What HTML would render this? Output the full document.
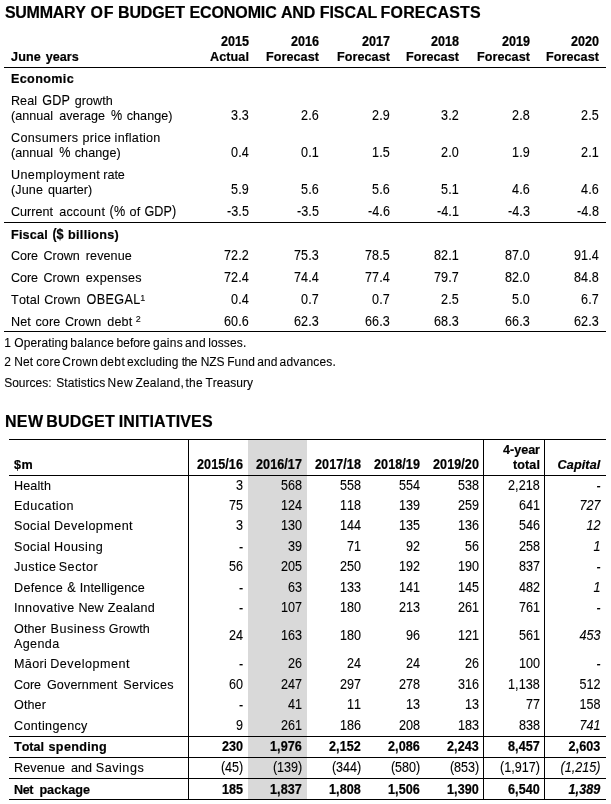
<!DOCTYPE html>
<html lang="en"><head><meta charset="utf-8"><title>Summary of Budget Economic and Fiscal Forecasts</title>
<style>
html,body{margin:0;padding:0;background:#fff;}
body{width:611px;height:804px;position:relative;overflow:hidden;font-family:"Liberation Sans",Arial,sans-serif;color:#000;font-kerning:none;-webkit-text-stroke:0.1px #000;}
.t{position:absolute;left:0;width:611px;white-space:nowrap;}
.t span{position:absolute;top:0;white-space:pre;}
.b{font-weight:bold;-webkit-text-stroke:0.2px #000;}
.i{font-style:italic;}
.h{position:absolute;background:#000;height:1px;}
.v{position:absolute;background:#000;width:1px;}
.g{position:absolute;background:#d9d9d9;}
.t sup{position:absolute;top:-3px;font-size:9px;line-height:16px;vertical-align:baseline;}
.n{font-size:12.6px;line-height:16px;height:16px;}
.n span{transform:scaleY(1.08);transform-origin:0 12px;}
.n .c{transform:scaleY(1.11);}
.f{font-size:12px;line-height:16px;height:16px;}
.f span{transform:scaleY(1.04);transform-origin:0 12px;}
.T{font-size:16px;line-height:20px;height:20px;}
.T span{transform:scaleY(1.0);transform-origin:0 15.5px;}
</style></head><body>
<div class="t T b" style="top:2.5px"><span style="left:4.9px;letter-spacing:-0.26px">SUMMARY</span> <span style="left:90.51px;letter-spacing:0.69px">OF</span> <span style="left:117.97px;letter-spacing:-0.12px">BUDGET</span> <span style="left:189.47px;letter-spacing:-0.1px">ECONOMIC</span> <span style="left:281.02px;letter-spacing:-0.25px">AND</span> <span style="left:319.73px;letter-spacing:-0.04px">FISCAL</span> <span style="left:380.55px;letter-spacing:0.18px">FORECASTS</span></div>
<div class="t n b" style="top:34px"><span class="c" style="left:221px;letter-spacing:-0.01px">2015</span></div>
<div class="t n b" style="top:49px"><span style="left:210px;letter-spacing:0.08px">Actual</span></div>
<div class="t n b" style="top:34px"><span class="c" style="left:291px;letter-spacing:-0.01px">2016</span></div>
<div class="t n b" style="top:49px"><span style="left:266px;letter-spacing:0.06px">Forecast</span></div>
<div class="t n b" style="top:34px"><span class="c" style="left:362px;letter-spacing:-0.01px">2017</span></div>
<div class="t n b" style="top:49px"><span style="left:337px;letter-spacing:0.06px">Forecast</span></div>
<div class="t n b" style="top:34px"><span class="c" style="left:431px;letter-spacing:-0.01px">2018</span></div>
<div class="t n b" style="top:49px"><span style="left:406px;letter-spacing:0.06px">Forecast</span></div>
<div class="t n b" style="top:34px"><span class="c" style="left:502px;letter-spacing:-0.01px">2019</span></div>
<div class="t n b" style="top:49px"><span style="left:477px;letter-spacing:0.06px">Forecast</span></div>
<div class="t n b" style="top:34px"><span class="c" style="left:571px;letter-spacing:-0.01px">2020</span></div>
<div class="t n b" style="top:49px"><span style="left:546px;letter-spacing:0.06px">Forecast</span></div>
<div class="t n b" style="top:49px"><span style="left:11px;letter-spacing:0.15px">June</span> <span style="left:45.82px;letter-spacing:0.01px">years</span></div>
<div class="h" style="left:4px;top:67px;width:602px;height:1px"></div>
<div class="t n b" style="top:71px"><span style="left:11px;letter-spacing:0.35px">Economic</span></div>
<div class="t n" style="top:93px"><span style="left:11px;letter-spacing:0.02px">Real</span> <span class="c" style="left:42.13px;letter-spacing:0.23px">GDP</span> <span style="left:74.72px;letter-spacing:0.03px">growth</span></div>
<div class="t n" style="top:108px"><span style="left:11px;letter-spacing:0px">(annual</span> <span style="left:59.18px;letter-spacing:0.07px">average</span> <span class="c" style="left:111.07px;letter-spacing:0.8px">%</span> <span style="left:126.63px;letter-spacing:0.07px">change)</span></div>
<div class="t n" style="top:108px"><span class="c" style="left:231px;letter-spacing:0.16px">3.3</span></div>
<div class="t n" style="top:108px"><span class="c" style="left:301px;letter-spacing:0.16px">2.6</span></div>
<div class="t n" style="top:108px"><span class="c" style="left:372px;letter-spacing:0.16px">2.9</span></div>
<div class="t n" style="top:108px"><span class="c" style="left:441px;letter-spacing:0.16px">3.2</span></div>
<div class="t n" style="top:108px"><span class="c" style="left:512px;letter-spacing:0.16px">2.8</span></div>
<div class="t n" style="top:108px"><span class="c" style="left:581px;letter-spacing:0.16px">2.5</span></div>
<div class="t n" style="top:130px"><span style="left:11px;letter-spacing:0.34px">Consumers</span> <span style="left:82.57px;letter-spacing:0.29px">price</span> <span style="left:114.58px;letter-spacing:0.29px">inflation</span></div>
<div class="t n" style="top:145px"><span style="left:11px;letter-spacing:0px">(annual</span> <span class="c" style="left:59.18px;letter-spacing:0.8px">%</span> <span style="left:74.74px;letter-spacing:0.07px">change)</span></div>
<div class="t n" style="top:145px"><span class="c" style="left:231px;letter-spacing:0.16px">0.4</span></div>
<div class="t n" style="top:145px"><span class="c" style="left:301px;letter-spacing:0.16px">0.1</span></div>
<div class="t n" style="top:145px"><span class="c" style="left:372px;letter-spacing:0.16px">1.5</span></div>
<div class="t n" style="top:145px"><span class="c" style="left:441px;letter-spacing:0.16px">2.0</span></div>
<div class="t n" style="top:145px"><span class="c" style="left:512px;letter-spacing:0.16px">1.9</span></div>
<div class="t n" style="top:145px"><span class="c" style="left:581px;letter-spacing:0.16px">2.1</span></div>
<div class="t n" style="top:167px"><span style="left:11px;letter-spacing:0.37px">Unemployment</span> <span style="left:103.37px;letter-spacing:-0.09px">rate</span></div>
<div class="t n" style="top:182px"><span style="left:11px;letter-spacing:0.1px">(June</span> <span style="left:48.06px;letter-spacing:-0.01px">quarter)</span></div>
<div class="t n" style="top:182px"><span class="c" style="left:231px;letter-spacing:0.16px">5.9</span></div>
<div class="t n" style="top:182px"><span class="c" style="left:301px;letter-spacing:0.16px">5.6</span></div>
<div class="t n" style="top:182px"><span class="c" style="left:372px;letter-spacing:0.16px">5.6</span></div>
<div class="t n" style="top:182px"><span class="c" style="left:441px;letter-spacing:0.16px">5.1</span></div>
<div class="t n" style="top:182px"><span class="c" style="left:512px;letter-spacing:0.16px">4.6</span></div>
<div class="t n" style="top:182px"><span class="c" style="left:581px;letter-spacing:0.16px">4.6</span></div>
<div class="t n" style="top:204px"><span style="left:11px">Current</span> <span style="left:59.16px;letter-spacing:0.27px">account</span> <span class="c" style="left:109.57px;letter-spacing:0.3px">(%</span> <span style="left:129.56px;letter-spacing:0.25px">of</span> <span class="c" style="left:144.39px;letter-spacing:0.13px">GDP)</span></div>
<div class="t n" style="top:204px"><span class="c" style="left:227px;letter-spacing:0.07px">-3.5</span></div>
<div class="t n" style="top:204px"><span class="c" style="left:297px;letter-spacing:0.07px">-3.5</span></div>
<div class="t n" style="top:204px"><span class="c" style="left:368px;letter-spacing:0.07px">-4.6</span></div>
<div class="t n" style="top:204px"><span class="c" style="left:437px;letter-spacing:0.07px">-4.1</span></div>
<div class="t n" style="top:204px"><span class="c" style="left:508px;letter-spacing:0.07px">-4.3</span></div>
<div class="t n" style="top:204px"><span class="c" style="left:577px;letter-spacing:0.07px">-4.8</span></div>
<div class="h" style="left:4px;top:222px;width:602px;height:1px"></div>
<div class="t n b" style="top:227px"><span style="left:11px;letter-spacing:0.21px">Fiscal</span> <span class="c" style="left:52.5px;letter-spacing:-0.1px">($</span> <span style="left:68.06px;letter-spacing:0.3px">billions)</span></div>
<div class="t n" style="top:248px"><span style="left:11px;letter-spacing:-0.08px">Core</span> <span style="left:43.6px;letter-spacing:-0.08px">Crown</span> <span style="left:85.84px;letter-spacing:0.07px">revenue</span></div>
<div class="t n" style="top:248px"><span class="c" style="left:224px;letter-spacing:0.12px">72.2</span></div>
<div class="t n" style="top:248px"><span class="c" style="left:294px;letter-spacing:0.12px">75.3</span></div>
<div class="t n" style="top:248px"><span class="c" style="left:365px;letter-spacing:0.12px">78.5</span></div>
<div class="t n" style="top:248px"><span class="c" style="left:434px;letter-spacing:0.12px">82.1</span></div>
<div class="t n" style="top:248px"><span class="c" style="left:505px;letter-spacing:0.12px">87.0</span></div>
<div class="t n" style="top:248px"><span class="c" style="left:574px;letter-spacing:0.12px">91.4</span></div>
<div class="t n" style="top:270px"><span style="left:11px;letter-spacing:-0.08px">Core</span> <span style="left:43.6px;letter-spacing:-0.08px">Crown</span> <span style="left:85.84px;letter-spacing:0.26px">expenses</span></div>
<div class="t n" style="top:270px"><span class="c" style="left:224px;letter-spacing:0.12px">72.4</span></div>
<div class="t n" style="top:270px"><span class="c" style="left:294px;letter-spacing:0.12px">74.4</span></div>
<div class="t n" style="top:270px"><span class="c" style="left:365px;letter-spacing:0.12px">77.4</span></div>
<div class="t n" style="top:270px"><span class="c" style="left:434px;letter-spacing:0.12px">79.7</span></div>
<div class="t n" style="top:270px"><span class="c" style="left:505px;letter-spacing:0.12px">82.0</span></div>
<div class="t n" style="top:270px"><span class="c" style="left:574px;letter-spacing:0.12px">84.8</span></div>
<div class="t n" style="top:292px"><span style="left:11px;letter-spacing:0.2px">Total</span> <span style="left:44.35px;letter-spacing:-0.08px">Crown</span> <span class="c" style="left:86.58px;letter-spacing:0.36px">OBEGAL</span><sup style="left:140.3px;top:-2px">1</sup></div>
<div class="t n" style="top:292px"><span class="c" style="left:231px;letter-spacing:0.16px">0.4</span></div>
<div class="t n" style="top:292px"><span class="c" style="left:301px;letter-spacing:0.16px">0.7</span></div>
<div class="t n" style="top:292px"><span class="c" style="left:372px;letter-spacing:0.16px">0.7</span></div>
<div class="t n" style="top:292px"><span class="c" style="left:441px;letter-spacing:0.16px">2.5</span></div>
<div class="t n" style="top:292px"><span class="c" style="left:512px;letter-spacing:0.16px">5.0</span></div>
<div class="t n" style="top:292px"><span class="c" style="left:581px;letter-spacing:0.16px">6.7</span></div>
<div class="t n" style="top:314px"><span style="left:11px;letter-spacing:0.13px">Net</span> <span style="left:35.45px;letter-spacing:0.12px">core</span> <span style="left:65.09px;letter-spacing:-0.08px">Crown</span> <span style="left:107.33px;letter-spacing:0.12px">debt</span><sup style="left:135.8px">2</sup></div>
<div class="t n" style="top:314px"><span class="c" style="left:224px;letter-spacing:0.12px">60.6</span></div>
<div class="t n" style="top:314px"><span class="c" style="left:294px;letter-spacing:0.12px">62.3</span></div>
<div class="t n" style="top:314px"><span class="c" style="left:365px;letter-spacing:0.12px">66.3</span></div>
<div class="t n" style="top:314px"><span class="c" style="left:434px;letter-spacing:0.12px">68.3</span></div>
<div class="t n" style="top:314px"><span class="c" style="left:505px;letter-spacing:0.12px">66.3</span></div>
<div class="t n" style="top:314px"><span class="c" style="left:574px;letter-spacing:0.12px">62.3</span></div>
<div class="h" style="left:4px;top:331px;width:602px;height:1px"></div>
<div class="t f" style="top:335px"><span style="left:4.2px;letter-spacing:0.33px">1</span> <span style="left:14.21px;letter-spacing:0.14px">Operating</span> <span style="left:70.24px;letter-spacing:0.28px">balance</span> <span style="left:116.61px;letter-spacing:-0.04px">before</span> <span style="left:152.97px;letter-spacing:0.26px">gains</span> <span style="left:184.99px;letter-spacing:0.33px">and</span> <span style="left:208.15px;letter-spacing:0.13px">losses.</span></div>
<div class="t f" style="top:354px"><span style="left:4.2px;letter-spacing:0.33px">2</span> <span style="left:14.21px;letter-spacing:0.11px">Net</span> <span style="left:36.22px;letter-spacing:0.26px">core</span> <span style="left:62.29px;letter-spacing:0.26px">Crown</span> <span style="left:100.3px;letter-spacing:0.36px">debt</span> <span style="left:126.99px;letter-spacing:0.08px">excluding</span> <span style="left:181.63px;letter-spacing:-0.39px">the</span> <span style="left:200.64px">NZS</span> <span style="left:227.18px;letter-spacing:0.1px">Fund</span> <span style="left:257.26px;letter-spacing:0.03px">and</span> <span style="left:279.52px;letter-spacing:0.21px">advances.</span></div>
<div class="t f" style="top:375px"><span style="left:4.2px;letter-spacing:-0.01px">Sources:</span> <span style="left:56.22px;letter-spacing:0.11px">Statistics</span> <span style="left:107.57px;letter-spacing:0.58px">New</span> <span style="left:135.41px;letter-spacing:0.23px">Zealand,</span> <span style="left:185.44px;letter-spacing:0.26px">the</span> <span style="left:205.46px;letter-spacing:0.04px">Treasury</span></div>
<div class="t T b" style="top:411.5px"><span style="left:4.93px;letter-spacing:0.38px">NEW</span> <span style="left:46.23px;letter-spacing:0.18px">BUDGET</span> <span style="left:118.73px;letter-spacing:0.14px">INITIATIVES</span></div>
<div class="g" style="left:248px;top:439px;width:59px;height:361px"></div>
<div class="t n b" style="top:457px"><span class="c" style="left:197px;letter-spacing:0.06px">2015/16</span></div>
<div class="t n b" style="top:457px"><span class="c" style="left:256px;letter-spacing:0.06px">2016/17</span></div>
<div class="t n b" style="top:457px"><span class="c" style="left:315px;letter-spacing:0.06px">2017/18</span></div>
<div class="t n b" style="top:457px"><span class="c" style="left:374px;letter-spacing:0.06px">2018/19</span></div>
<div class="t n b" style="top:457px"><span class="c" style="left:433px;letter-spacing:0.06px">2019/20</span></div>
<div class="t n b" style="top:457px"><span style="left:513px;letter-spacing:0.08px">total</span></div>
<div class="t n b i" style="top:457px"><span style="left:557.5px;letter-spacing:0.14px">Capital</span></div>
<div class="t n b" style="top:442px"><span style="left:503px;letter-spacing:-0.02px">4-year</span></div>
<div class="t n b" style="top:457px"><span style="left:14px;letter-spacing:0.39px">$m</span></div>
<div class="t n" style="top:478px"><span style="left:14px;letter-spacing:0.1px">Health</span></div>
<div class="t n" style="top:478px"><span class="c" style="left:236px;letter-spacing:-0.01px">3</span></div>
<div class="t n" style="top:478px"><span class="c" style="left:281px;letter-spacing:-0.01px">568</span></div>
<div class="t n" style="top:478px"><span class="c" style="left:340px;letter-spacing:-0.01px">558</span></div>
<div class="t n" style="top:478px"><span class="c" style="left:399px;letter-spacing:-0.01px">554</span></div>
<div class="t n" style="top:478px"><span class="c" style="left:458px;letter-spacing:-0.01px">538</span></div>
<div class="t n" style="top:478px"><span class="c" style="left:508px;letter-spacing:0.09px">2,218</span></div>
<div class="t n" style="top:479px"><span class="c" style="left:596.5px;letter-spacing:-0.2px">-</span></div>
<div class="t n" style="top:498px"><span style="left:14px;letter-spacing:0.44px">Education</span></div>
<div class="t n" style="top:498px"><span class="c" style="left:229px;letter-spacing:-0.01px">75</span></div>
<div class="t n" style="top:498px"><span class="c" style="left:281px;letter-spacing:-0.01px">124</span></div>
<div class="t n" style="top:498px"><span class="c" style="left:340px;letter-spacing:-0.01px">118</span></div>
<div class="t n" style="top:498px"><span class="c" style="left:399px;letter-spacing:-0.01px">139</span></div>
<div class="t n" style="top:498px"><span class="c" style="left:458px;letter-spacing:-0.01px">259</span></div>
<div class="t n" style="top:498px"><span class="c" style="left:519px;letter-spacing:-0.01px">641</span></div>
<div class="t n i" style="top:498px"><span class="c" style="left:579.5px;letter-spacing:-0.01px">727</span></div>
<div class="t n" style="top:518px"><span style="left:14px;letter-spacing:0.36px">Social</span> <span style="left:54.02px;letter-spacing:0.44px">Development</span></div>
<div class="t n" style="top:518px"><span class="c" style="left:236px;letter-spacing:-0.01px">3</span></div>
<div class="t n" style="top:518px"><span class="c" style="left:281px;letter-spacing:-0.01px">130</span></div>
<div class="t n" style="top:518px"><span class="c" style="left:340px;letter-spacing:-0.01px">144</span></div>
<div class="t n" style="top:518px"><span class="c" style="left:399px;letter-spacing:-0.01px">135</span></div>
<div class="t n" style="top:518px"><span class="c" style="left:458px;letter-spacing:-0.01px">136</span></div>
<div class="t n" style="top:518px"><span class="c" style="left:519px;letter-spacing:-0.01px">546</span></div>
<div class="t n i" style="top:518px"><span class="c" style="left:586.5px;letter-spacing:-0.01px">12</span></div>
<div class="t n" style="top:539px"><span style="left:14px;letter-spacing:0.36px">Social</span> <span style="left:54.02px;letter-spacing:0.41px">Housing</span></div>
<div class="t n" style="top:540px"><span class="c" style="left:239px;letter-spacing:-0.2px">-</span></div>
<div class="t n" style="top:539px"><span class="c" style="left:288px;letter-spacing:-0.01px">39</span></div>
<div class="t n" style="top:539px"><span class="c" style="left:347px;letter-spacing:-0.01px">71</span></div>
<div class="t n" style="top:539px"><span class="c" style="left:406px;letter-spacing:-0.01px">92</span></div>
<div class="t n" style="top:539px"><span class="c" style="left:465px;letter-spacing:-0.01px">56</span></div>
<div class="t n" style="top:539px"><span class="c" style="left:519px;letter-spacing:-0.01px">258</span></div>
<div class="t n i" style="top:539px"><span class="c" style="left:593.5px;letter-spacing:-0.01px">1</span></div>
<div class="t n" style="top:559px"><span style="left:14px;letter-spacing:0.48px">Justice</span> <span style="left:58.7px;letter-spacing:0.52px">Sector</span></div>
<div class="t n" style="top:559px"><span class="c" style="left:229px;letter-spacing:-0.01px">56</span></div>
<div class="t n" style="top:559px"><span class="c" style="left:281px;letter-spacing:-0.01px">205</span></div>
<div class="t n" style="top:559px"><span class="c" style="left:340px;letter-spacing:-0.01px">250</span></div>
<div class="t n" style="top:559px"><span class="c" style="left:399px;letter-spacing:-0.01px">192</span></div>
<div class="t n" style="top:559px"><span class="c" style="left:458px;letter-spacing:-0.01px">190</span></div>
<div class="t n" style="top:559px"><span class="c" style="left:519px;letter-spacing:-0.01px">837</span></div>
<div class="t n" style="top:560px"><span class="c" style="left:596.5px;letter-spacing:-0.2px">-</span></div>
<div class="t n" style="top:580px"><span style="left:14px;letter-spacing:0.29px">Defence</span> <span class="c" style="left:67.36px;letter-spacing:0.6px">&amp;</span> <span style="left:79.66px;letter-spacing:0.12px">Intelligence</span></div>
<div class="t n" style="top:581px"><span class="c" style="left:239px;letter-spacing:-0.2px">-</span></div>
<div class="t n" style="top:580px"><span class="c" style="left:288px;letter-spacing:-0.01px">63</span></div>
<div class="t n" style="top:580px"><span class="c" style="left:340px;letter-spacing:-0.01px">133</span></div>
<div class="t n" style="top:580px"><span class="c" style="left:399px;letter-spacing:-0.01px">141</span></div>
<div class="t n" style="top:580px"><span class="c" style="left:458px;letter-spacing:-0.01px">145</span></div>
<div class="t n" style="top:580px"><span class="c" style="left:519px;letter-spacing:-0.01px">482</span></div>
<div class="t n i" style="top:580px"><span class="c" style="left:593.5px;letter-spacing:-0.01px">1</span></div>
<div class="t n" style="top:600px"><span style="left:14px;letter-spacing:0.31px">Innovative</span> <span style="left:78.48px;letter-spacing:-0.07px">New</span> <span style="left:107.86px;letter-spacing:0.23px">Zealand</span></div>
<div class="t n" style="top:601px"><span class="c" style="left:239px;letter-spacing:-0.2px">-</span></div>
<div class="t n" style="top:600px"><span class="c" style="left:281px;letter-spacing:-0.01px">107</span></div>
<div class="t n" style="top:600px"><span class="c" style="left:340px;letter-spacing:-0.01px">180</span></div>
<div class="t n" style="top:600px"><span class="c" style="left:399px;letter-spacing:-0.01px">213</span></div>
<div class="t n" style="top:600px"><span class="c" style="left:458px;letter-spacing:-0.01px">261</span></div>
<div class="t n" style="top:600px"><span class="c" style="left:519px;letter-spacing:-0.01px">761</span></div>
<div class="t n" style="top:601px"><span class="c" style="left:596.5px;letter-spacing:-0.2px">-</span></div>
<div class="t n" style="top:621px"><span style="left:14px;letter-spacing:0.1px">Other</span> <span style="left:50.55px;letter-spacing:0.49px">Business</span> <span style="left:108.85px;letter-spacing:0.06px">Growth</span></div>
<div class="t n" style="top:636px"><span style="left:14px;letter-spacing:0.35px">Agenda</span></div>
<div class="t n" style="top:628px"><span class="c" style="left:229px;letter-spacing:-0.01px">24</span></div>
<div class="t n" style="top:628px"><span class="c" style="left:281px;letter-spacing:-0.01px">163</span></div>
<div class="t n" style="top:628px"><span class="c" style="left:340px;letter-spacing:-0.01px">180</span></div>
<div class="t n" style="top:628px"><span class="c" style="left:406px;letter-spacing:-0.01px">96</span></div>
<div class="t n" style="top:628px"><span class="c" style="left:458px;letter-spacing:-0.01px">121</span></div>
<div class="t n" style="top:628px"><span class="c" style="left:519px;letter-spacing:-0.01px">561</span></div>
<div class="t n i" style="top:628px"><span class="c" style="left:579.5px;letter-spacing:-0.01px">453</span></div>
<div class="t n" style="top:656px"><span style="left:14px;letter-spacing:0.35px">Māori</span> <span style="left:50.24px;letter-spacing:0.5px">Development</span></div>
<div class="t n" style="top:657px"><span class="c" style="left:239px;letter-spacing:-0.2px">-</span></div>
<div class="t n" style="top:656px"><span class="c" style="left:288px;letter-spacing:-0.01px">26</span></div>
<div class="t n" style="top:656px"><span class="c" style="left:347px;letter-spacing:-0.01px">24</span></div>
<div class="t n" style="top:656px"><span class="c" style="left:406px;letter-spacing:-0.01px">24</span></div>
<div class="t n" style="top:656px"><span class="c" style="left:465px;letter-spacing:-0.01px">26</span></div>
<div class="t n" style="top:656px"><span class="c" style="left:519px;letter-spacing:-0.01px">100</span></div>
<div class="t n" style="top:657px"><span class="c" style="left:596.5px;letter-spacing:-0.2px">-</span></div>
<div class="t n" style="top:677px"><span style="left:14px;letter-spacing:-0.08px">Core</span> <span style="left:46.9px;letter-spacing:0.13px">Government</span> <span style="left:123.37px;letter-spacing:0.26px">Services</span></div>
<div class="t n" style="top:677px"><span class="c" style="left:229px;letter-spacing:-0.01px">60</span></div>
<div class="t n" style="top:677px"><span class="c" style="left:281px;letter-spacing:-0.01px">247</span></div>
<div class="t n" style="top:677px"><span class="c" style="left:340px;letter-spacing:-0.01px">297</span></div>
<div class="t n" style="top:677px"><span class="c" style="left:399px;letter-spacing:-0.01px">278</span></div>
<div class="t n" style="top:677px"><span class="c" style="left:458px;letter-spacing:-0.01px">316</span></div>
<div class="t n" style="top:677px"><span class="c" style="left:508px;letter-spacing:0.09px">1,138</span></div>
<div class="t n" style="top:677px"><span class="c" style="left:579.5px;letter-spacing:-0.01px">512</span></div>
<div class="t n" style="top:697px"><span style="left:14px;letter-spacing:0.1px">Other</span></div>
<div class="t n" style="top:698px"><span class="c" style="left:239px;letter-spacing:-0.2px">-</span></div>
<div class="t n" style="top:697px"><span class="c" style="left:288px;letter-spacing:-0.01px">41</span></div>
<div class="t n" style="top:697px"><span class="c" style="left:347px;letter-spacing:-0.01px">11</span></div>
<div class="t n" style="top:697px"><span class="c" style="left:406px;letter-spacing:-0.01px">13</span></div>
<div class="t n" style="top:697px"><span class="c" style="left:465px;letter-spacing:-0.01px">13</span></div>
<div class="t n" style="top:697px"><span class="c" style="left:526px;letter-spacing:-0.01px">77</span></div>
<div class="t n" style="top:697px"><span class="c" style="left:579.5px;letter-spacing:-0.01px">158</span></div>
<div class="t n" style="top:718px"><span style="left:14px;letter-spacing:0.34px">Contingency</span></div>
<div class="t n" style="top:718px"><span class="c" style="left:236px;letter-spacing:-0.01px">9</span></div>
<div class="t n" style="top:718px"><span class="c" style="left:281px;letter-spacing:-0.01px">261</span></div>
<div class="t n" style="top:718px"><span class="c" style="left:340px;letter-spacing:-0.01px">186</span></div>
<div class="t n" style="top:718px"><span class="c" style="left:399px;letter-spacing:-0.01px">208</span></div>
<div class="t n" style="top:718px"><span class="c" style="left:458px;letter-spacing:-0.01px">183</span></div>
<div class="t n" style="top:718px"><span class="c" style="left:519px;letter-spacing:-0.01px">838</span></div>
<div class="t n i" style="top:718px"><span class="c" style="left:579.5px;letter-spacing:-0.01px">741</span></div>
<div class="t n b" style="top:739px"><span style="left:14px;letter-spacing:-0.02px">Total</span> <span style="left:48.55px;letter-spacing:0.32px">spending</span></div>
<div class="t n b" style="top:739px"><span class="c" style="left:222px;letter-spacing:-0.01px">230</span></div>
<div class="t n b" style="top:739px"><span class="c" style="left:270px;letter-spacing:0.09px">1,976</span></div>
<div class="t n b" style="top:739px"><span class="c" style="left:329px;letter-spacing:0.09px">2,152</span></div>
<div class="t n b" style="top:739px"><span class="c" style="left:388px;letter-spacing:0.09px">2,086</span></div>
<div class="t n b" style="top:739px"><span class="c" style="left:447px;letter-spacing:0.09px">2,243</span></div>
<div class="t n b" style="top:739px"><span class="c" style="left:508px;letter-spacing:0.09px">8,457</span></div>
<div class="t n b" style="top:739px"><span class="c" style="left:568.5px;letter-spacing:0.09px">2,603</span></div>
<div class="t n" style="top:760px"><span style="left:14px;letter-spacing:0.08px">Revenue</span> <span style="left:71.08px;letter-spacing:-0.01px">and</span> <span style="left:95.83px;letter-spacing:0.51px">Savings</span></div>
<div class="t n" style="top:760px"><span class="c" style="left:221px;letter-spacing:-0.1px">(45)</span></div>
<div class="t n" style="top:760px"><span class="c" style="left:273px;letter-spacing:-0.08px">(139)</span></div>
<div class="t n" style="top:760px"><span class="c" style="left:332px;letter-spacing:-0.08px">(344)</span></div>
<div class="t n" style="top:760px"><span class="c" style="left:391px;letter-spacing:-0.08px">(580)</span></div>
<div class="t n" style="top:760px"><span class="c" style="left:450px;letter-spacing:-0.08px">(853)</span></div>
<div class="t n" style="top:760px"><span class="c" style="left:500px;letter-spacing:0.01px">(1,917)</span></div>
<div class="t n i" style="top:760px"><span class="c" style="left:560.5px;letter-spacing:0.01px">(1,215)</span></div>
<div class="t n b" style="top:782px"><span style="left:14px;letter-spacing:-0.4px">Net</span> <span style="left:39.39px;letter-spacing:0.05px">package</span></div>
<div class="t n b" style="top:782px"><span class="c" style="left:222px;letter-spacing:-0.01px">185</span></div>
<div class="t n b" style="top:782px"><span class="c" style="left:270px;letter-spacing:0.09px">1,837</span></div>
<div class="t n b" style="top:782px"><span class="c" style="left:329px;letter-spacing:0.09px">1,808</span></div>
<div class="t n b" style="top:782px"><span class="c" style="left:388px;letter-spacing:0.09px">1,506</span></div>
<div class="t n b" style="top:782px"><span class="c" style="left:447px;letter-spacing:0.09px">1,390</span></div>
<div class="t n b" style="top:782px"><span class="c" style="left:508px;letter-spacing:0.09px">6,540</span></div>
<div class="t n b i" style="top:782px"><span class="c" style="left:568.5px;letter-spacing:0.09px">1,389</span></div>
<div class="h" style="left:9px;top:439px;width:597px;height:1px"></div>
<div class="h" style="left:9px;top:475px;width:597px;height:1px"></div>
<div class="h" style="left:9px;top:736px;width:597px;height:1px"></div>
<div class="h" style="left:9px;top:757px;width:597px;height:1px"></div>
<div class="h" style="left:9px;top:778px;width:597px;height:1px"></div>
<div class="h" style="left:9px;top:799px;width:597px;height:1px"></div>
<div class="v" style="left:188px;top:439px;height:361px;width:1px"></div>
<div class="v" style="left:483px;top:439px;height:361px;width:1px"></div>
<div class="v" style="left:544px;top:439px;height:361px;width:1px"></div>
</body></html>
